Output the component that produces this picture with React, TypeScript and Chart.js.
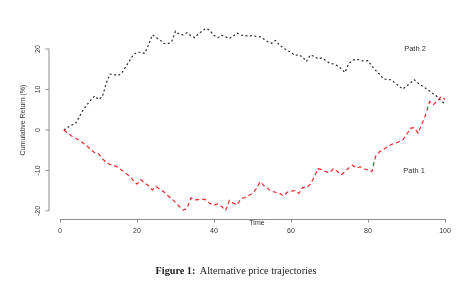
import React, { useEffect, useRef } from "react";
import { Chart, registerables } from "chart.js";

Chart.register(...registerables);

const times = [
  1, 2, 3, 4, 5, 6, 7, 8, 9, 10, 11, 12, 13, 14, 15, 16, 17, 18, 19, 20,
  21, 22, 23, 24, 25, 26, 27, 28, 29, 30, 31, 32, 33, 34, 35, 36, 37, 38, 39, 40,
  41, 42, 43, 44, 45, 46, 47, 48, 49, 50, 51, 52, 53, 54, 55, 56, 57, 58, 59, 60,
  61, 62, 63, 64, 65, 66, 67, 68, 69, 70, 71, 72, 73, 74, 75, 76, 77, 78, 79, 80,
  81, 82, 83, 84, 85, 86, 87, 88, 89, 90, 91, 92, 93, 94, 95, 96, 97, 98, 99, 100,
];

const path1 = [
  0, -0.8, -1.5, -2.0, -2.6, -3.2, -3.9, -4.9, -5.6, -5.8,
  -7.1, -8.0, -8.6, -8.7, -9.2, -9.9, -10.6, -11.4, -12.4, -13.4,
  -12.3, -13.1, -13.8, -14.8, -14.0, -14.7, -15.3, -16.2, -17.0, -17.9,
  -18.9, -19.8, -19.4, -16.8, -17.3, -17.2, -17.1, -17.3, -18.2, -18.6,
  -18.3, -18.9, -19.9, -17.4, -18.1, -18.5, -17.0, -16.7, -16.2, -15.7,
  -14.5, -12.8, -13.8, -14.5, -15.2, -15.4, -15.6, -16.3, -15.4, -15.1,
  -15.0, -15.7, -14.2, -14.3, -13.4, -11.7, -9.6, -9.8, -10.3, -10.6,
  -9.6, -10.2, -11.1, -10.3, -9.4, -8.7, -9.4, -9.1, -9.6, -9.9,
  -10.3, -6.5, -5.4, -4.8, -4.2, -3.6, -3.3, -2.9, -2.5, -1.2,
  0.4, 0.6, -0.8, 1.5, 3.8, 7.0, 6.3, 7.2, 8.2, 7.5,
];

const path2 = [
  0, 0.6, 1.2, 1.5, 3.2, 5.0, 6.2, 7.4, 8.4, 7.5,
  8.2, 11.5, 13.8, 13.7, 13.4, 14.0, 15.5, 17.0, 18.5, 19.2,
  19.2, 18.9, 21.0, 23.5, 22.8, 22.2, 21.4, 21.3, 21.8, 24.4,
  23.6, 23.5, 24.0, 23.3, 22.8, 23.8, 24.5, 25.1, 24.5, 23.3,
  22.8, 23.4, 23.0, 22.6, 23.2, 23.9, 23.4, 23.3, 23.2, 23.3,
  23.1, 23.0, 22.4, 21.8, 21.4, 22.1, 21.0, 20.3, 19.6, 19.2,
  18.4, 18.6, 18.0, 16.9, 18.5, 18.2, 17.6, 17.8, 17.2, 16.5,
  16.3, 15.9, 15.2, 14.2, 16.4, 17.2, 17.5, 17.2, 17.0, 17.1,
  15.8, 14.7, 13.8, 12.6, 12.5, 12.4, 11.6, 10.9, 10.1, 10.8,
  11.6, 12.4, 11.6, 10.9, 10.3, 9.6, 8.9, 8.2, 7.2, 6.4,
];

const xTicks = [0, 20, 40, 60, 80, 100];
const yTicks = [-20, -10, 0, 10, 20];
const pathLabels = ["Path 2", "Path 1"];
const pathLabelX = [92.2, 92.0];
const pathLabelY = [20.0, -10.1];

const AXIS_COLOR = "#8c8c8c";
const TEXT_COLOR = "#333333";
const SANS = "'Liberation Sans', Arial, sans-serif";

const customAxes = {
  id: "customAxes",
  afterDraw(chart: any) {
    const ctx = chart.ctx;
    const xs = chart.scales.x;
    const ys = chart.scales.y;
    const axisX = 49;
    ctx.save();
    ctx.strokeStyle = AXIS_COLOR;
    ctx.lineWidth = 1;
    ctx.beginPath();
    ctx.moveTo(axisX, ys.getPixelForValue(yTicks[0]));
    ctx.lineTo(axisX, ys.getPixelForValue(yTicks[yTicks.length - 1]));
    ctx.stroke();
    ctx.fillStyle = TEXT_COLOR;
    ctx.font = `7px ${SANS}`;
    ctx.textAlign = "center";
    ctx.textBaseline = "middle";
    yTicks.forEach((v) => {
      const py = ys.getPixelForValue(v);
      ctx.beginPath();
      ctx.moveTo(axisX, py);
      ctx.lineTo(axisX - 3.5, py);
      ctx.stroke();
      ctx.save();
      ctx.translate(37.8, py);
      ctx.rotate(-Math.PI / 2);
      ctx.fillText(String(v), 0, 0);
      ctx.restore();
    });
    ctx.save();
    ctx.translate(23, 120);
    ctx.rotate(-Math.PI / 2);
    ctx.font = `7px ${SANS}`;
    ctx.fillText("Cumulative Return (%)", 0, 0);
    ctx.restore();
    ctx.font = `7px ${SANS}`;
    ctx.fillText("Time", 257, 223);
    ctx.font = `7.5px ${SANS}`;
    pathLabels.forEach((t, i) => {
      ctx.fillText(t, xs.getPixelForValue(pathLabelX[i]), ys.getPixelForValue(pathLabelY[i]));
    });
    ctx.restore();
  },
};

export default function App() {
  const ref = useRef<HTMLCanvasElement | null>(null);
  useEffect(() => {
    if (!ref.current) return;
    const chart = new Chart(ref.current, {
      type: "line",
      data: {
        datasets: [
          {
            label: "Path 1",
            data: times.map((t, i) => ({ x: t, y: path1[i] })),
            borderColor: "#e8262b",
            borderWidth: 1.2,
            borderDash: [4, 3],
            pointRadius: 0,
            tension: 0,
            fill: false,
          },
          {
            label: "Path 2",
            data: times.map((t, i) => ({ x: t, y: path2[i] })),
            borderColor: "#2a2a2a",
            borderWidth: 1.2,
            borderDash: [2, 2.5],
            pointRadius: 0,
            tension: 0,
            fill: false,
          },
        ],
      },
      options: {
        animation: false,
        responsive: false,
        maintainAspectRatio: false,
        layout: { padding: { left: 60, right: 29, top: 24.7, bottom: 45 } },
        plugins: {
          legend: { display: false },
          tooltip: { enabled: false },
          title: { display: false },
        },
        scales: {
          x: {
            type: "linear",
            min: 0,
            max: 100,
            afterBuildTicks: (s: any) => {
              s.ticks = xTicks.map((v) => ({ value: v }));
            },
            afterFit: (s: any) => {
              s.height = 20;
            },
            grid: {
              drawOnChartArea: false,
              drawTicks: true,
              tickLength: 3.5,
              color: AXIS_COLOR,
            },
            border: { display: true, color: AXIS_COLOR, width: 1 },
            ticks: {
              padding: 4,
              maxRotation: 0,
              autoSkip: false,
              color: TEXT_COLOR,
              font: { size: 7, family: SANS },
            },
          },
          y: {
            type: "linear",
            min: -22,
            max: 26,
            display: false,
          },
        },
      },
      plugins: [customAxes],
    });
    return () => chart.destroy();
  }, []);

  return (
    <div style={{ position: "absolute", left: 0, top: 0, width: 474, height: 284, background: "#fff" }}>
      <canvas ref={ref} width={474} height={284} style={{ width: 474, height: 284, display: "block" }} />
      <div
        style={{
          position: "absolute",
          left: 0,
          top: 265,
          width: 472,
          textAlign: "center",
          fontFamily: "'Liberation Serif', 'Times New Roman', serif",
          fontSize: 10.2,
          lineHeight: "12px",
          color: "#222",
        }}
      >
        <b>Figure 1:</b>&nbsp; Alternative price trajectories
      </div>
    </div>
  );
}
